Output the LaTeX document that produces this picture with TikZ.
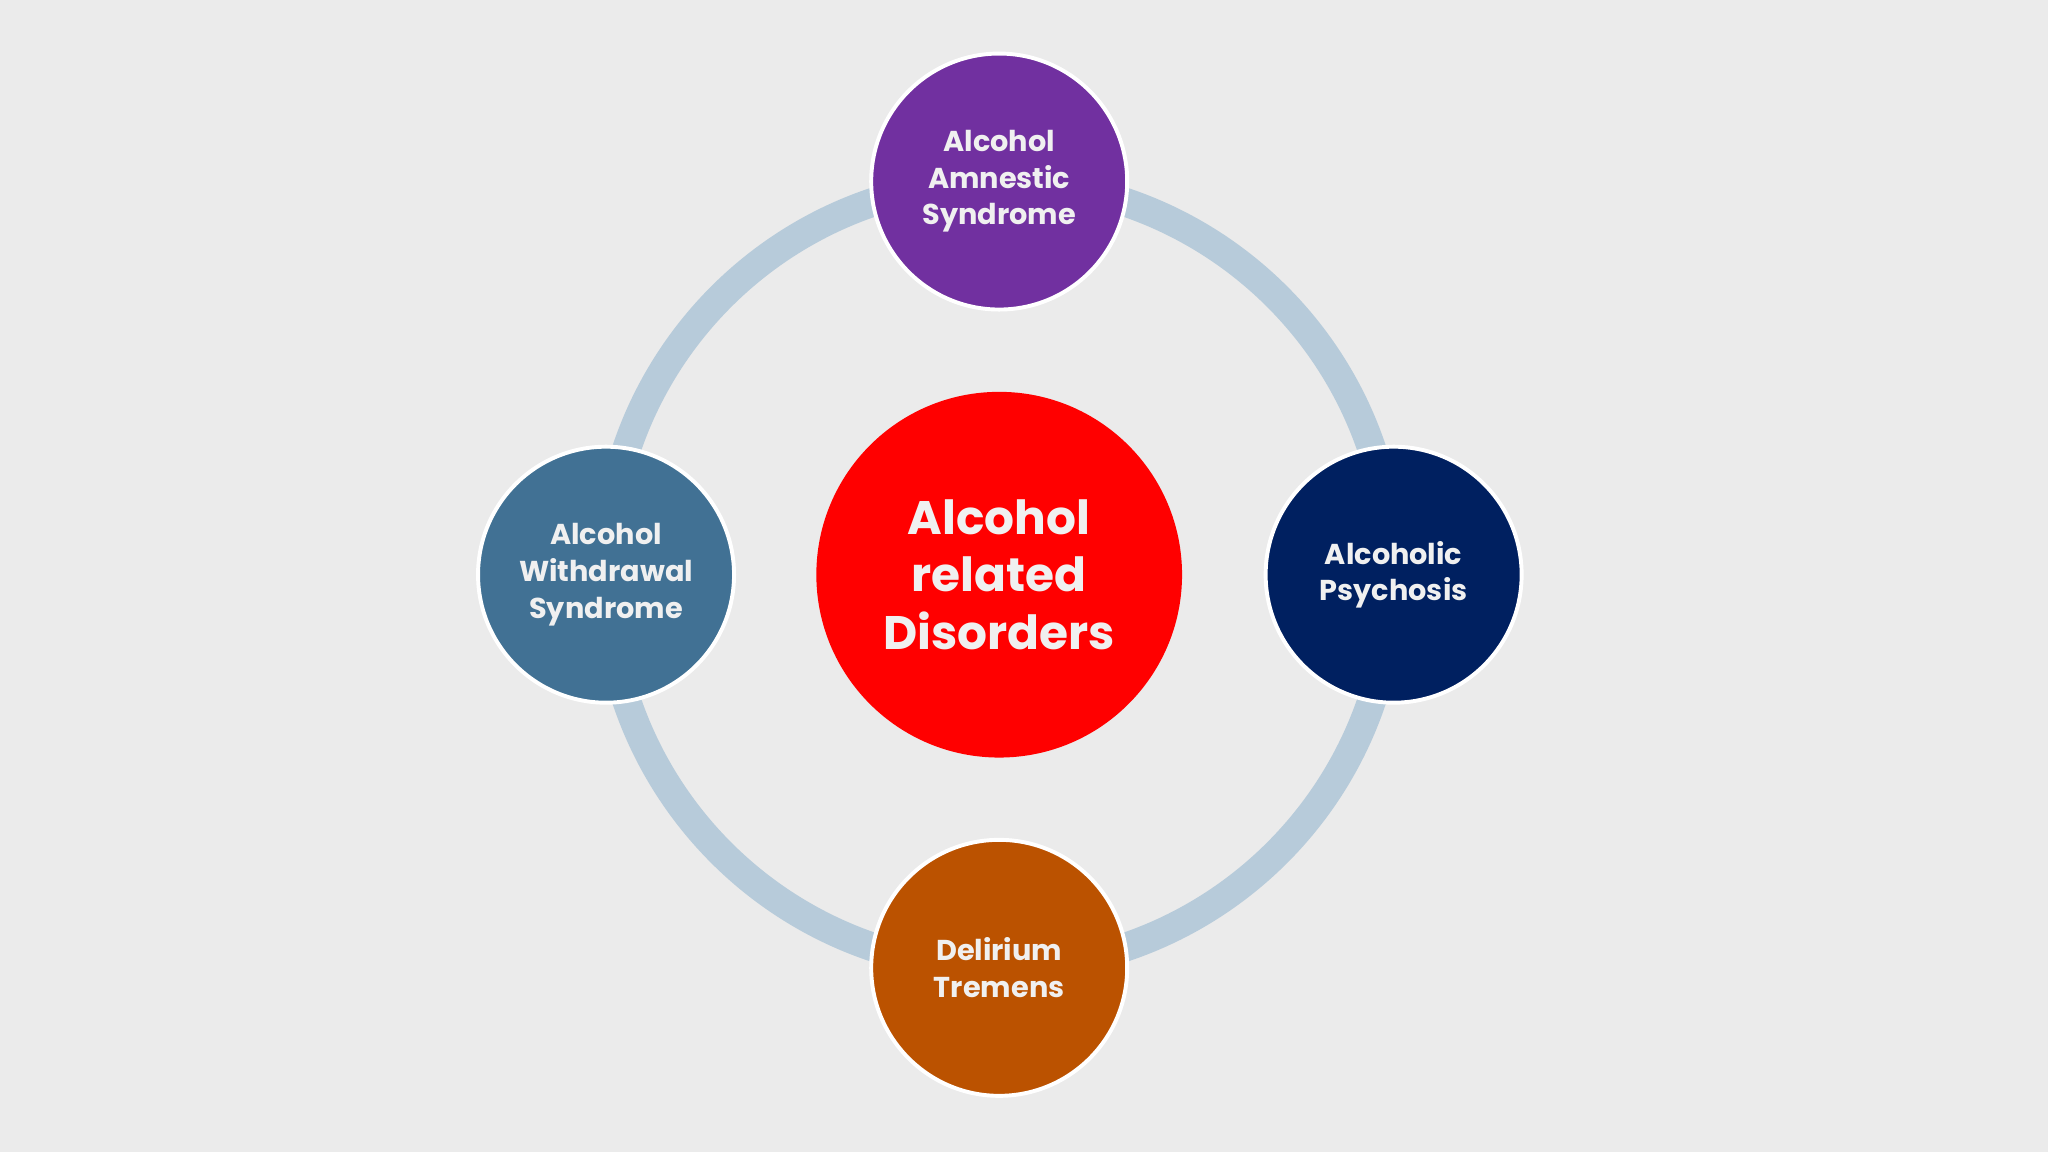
\documentclass[tikz,border=0pt]{standalone}
\usepackage{fontspec}
\setmainfont{Poppins}
\begin{document}
\begin{tikzpicture}[x=0.5pt,y=-0.5pt,
  sat/.style={circle,draw=white,line width=1.5pt,minimum size=98pt,inner sep=0pt,align=center,text=white!94!black,font=\bfseries\fontsize{11pt}{14pt}\selectfont},
  hub/.style={circle,fill=red,minimum size=140pt,inner sep=0pt,align=center,text=white!94!black,font=\bfseries\fontsize{18pt}{22pt}\selectfont}]
\fill[white!92!black] (0,0) rectangle (1568,882);
\useasboundingbox (0,0) rectangle (1568,882);
\coordinate (c) at (765,440);
\draw[line width=11pt,color={rgb,255:red,183;green,203;blue,218}] (c) circle[radius=301];
\node[hub] (h) at (c) {Alcohol\\related\\Disorders};
\node[sat,fill={rgb,255:red,113;green,48;blue,160}] (t) at (765,139) {Alcohol\\Amnestic\\Syndrome};
\node[sat,fill={rgb,255:red,0;green,32;blue,96}] (r) at (1067,440) {Alcoholic\\Psychosis};
\node[sat,fill={rgb,255:red,187;green,82;blue,0}] (b) at (765,741) {Delirium\\Tremens};
\node[sat,fill={rgb,255:red,65;green,113;blue,148}] (l) at (464,440) {Alcohol\\Withdrawal\\Syndrome};
\end{tikzpicture}
\end{document}
